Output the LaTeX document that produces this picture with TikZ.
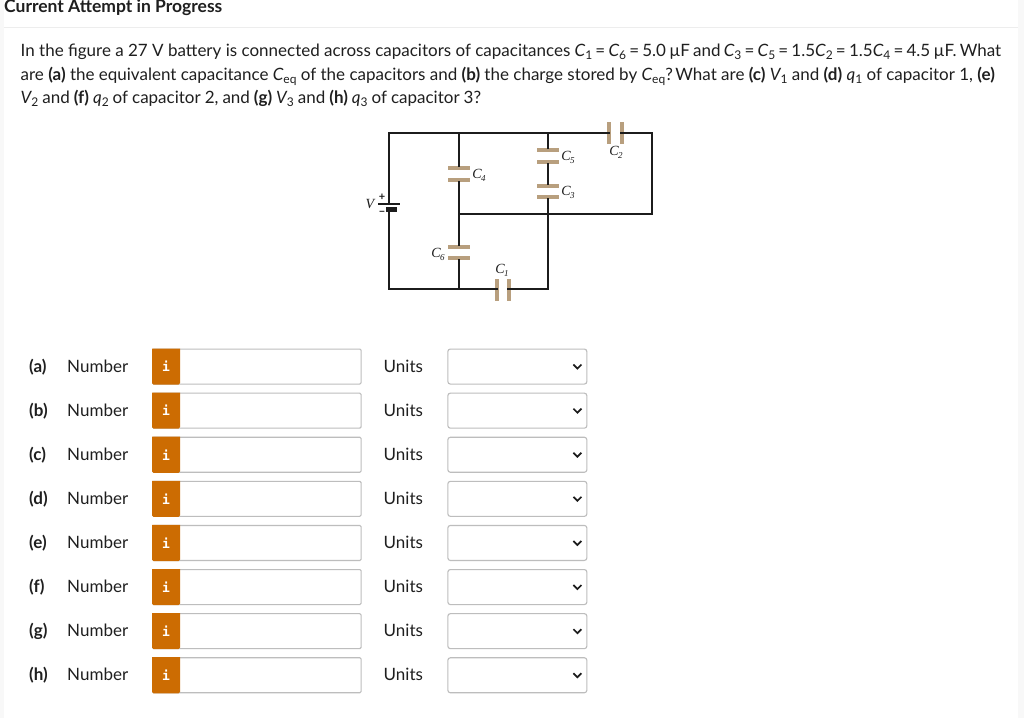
\documentclass[tikz,border=0pt]{standalone}
\usepackage{fontspec}
\setmainfont{Lato}
\newfontfamily\figfont{Liberation Serif}
\newfontfamily\iconfont{DejaVu Sans Mono}
\usetikzlibrary{calc}
\definecolor{wire}{HTML}{1C1C1C}
\definecolor{plate}{HTML}{B89F7E}
\definecolor{ink}{HTML}{1F1F1F}
\definecolor{boxline}{HTML}{BDBDBD}
\definecolor{infobg}{HTML}{CC6C02}
\definecolor{edgetint}{HTML}{F8F8F8}
\newcommand{\lsub}[1]{\raisebox{-0.22em}{\fontsize{12}{12}\selectfont\upshape #1}}
\newcommand{\vv}[2]{{\itshape #1}\lsub{#2}}
\newcommand{\figc}[1]{{\figfont\itshape C\kern-0.5pt\raisebox{-0.22em}{\fontsize{9}{9}\selectfont #1}}}
\tikzset{
  x=1pt,y=-1pt,
  wireline/.style={draw=wire,line width=2.6pt,line cap=rect},
  hplate/.style={fill=plate,inner sep=0pt,minimum width=22pt,minimum height=4pt},
  vplate/.style={fill=plate,inner sep=0pt,minimum width=4pt,minimum height=22pt},
  para/.style={anchor=base west,inner sep=0pt,text=ink,font=\fontsize{17}{20}\selectfont},
  head/.style={anchor=base west,inner sep=0pt,text=ink,font=\fontsize{17.5}{20}\selectfont\bfseries},
  rowlabel/.style={anchor=base west,inner sep=0pt,text=ink,font=\fontsize{17}{20}\selectfont},
  figlabel/.style={inner sep=0pt,text=wire,font=\fontsize{14}{14}\selectfont},
  fieldbox/.style={draw=boxline,line width=1.1pt,fill=white,anchor=north west,inner sep=0pt,rounded corners=1.2pt},
}
\begin{document}
\begin{tikzpicture}
\useasboundingbox (0,0) rectangle (1024,718);
\fill[white] (0,0) rectangle (1024,718);
\fill[edgetint] (0,0) rectangle (3.5,718);
\fill[edgetint] (1018,0) rectangle (1024,718);
% heading
\node[head] (title) at (4,12.5) {Current Attempt in Progress};
\coordinate (ruleL) at (4,27);
\coordinate (ruleR) at (1018,27);
\draw[draw=black!7,line width=1pt] (ruleL) -- (ruleR);
% question
\node[para] (l1) at (20.5,56) {In the figure a 27 V battery is connected across capacitors of capacitances {\spaceskip=3.2pt \vv{C}{1} = \vv{C}{6} = 5.0 µF and \vv{C}{3} = \vv{C}{5} = 1.5\vv{C}{2} = 1.5\vv{C}{4} = 4.5 µF. What}};
\node[para] (l2) at (20.5,80) {\spaceskip=4.35pt are \textbf{(a)} the equivalent capacitance \vv{C}{eq} of the capacitors and \textbf{(b)} the charge stored by \vv{C}{eq}?\kern2.5pt What are \textbf{(c)} \vv{V}{1} and \textbf{(d)} \vv{q}{1} of capacitor 1, \textbf{(e)}};
\node[para] (l3) at (20.5,103) {\spaceskip=4pt \vv{V}{2} and \textbf{(f)} \vv{q}{2} of capacitor 2, and \textbf{(g)} \vv{V}{3} and \textbf{(h)} \vv{q}{3} of capacitor 3?};
% circuit junctions
\coordinate (tl) at (389,133);
\coordinate (t4) at (459,133);
\coordinate (t5) at (548,133);
\coordinate (tr) at (652,133);
\coordinate (mr) at (652,214);
\coordinate (m5) at (548,214);
\coordinate (m4) at (459,214);
\coordinate (bl) at (389,289);
\coordinate (b4) at (459,289);
\coordinate (br) at (548,289);
% plates
\node[vplate] (c2a) at (609,132.5) {};
\node[vplate] (c2b) at (621.5,132.5) {};
\node[vplate] (c1a) at (497,290) {};
\node[vplate] (c1b) at (508.5,290) {};
\node[hplate] (c5a) at (548,150) {};
\node[hplate] (c5b) at (548,161.7) {};
\node[hplate] (c3a) at (548,185.7) {};
\node[hplate] (c3b) at (548,197.3) {};
\node[hplate] (c4a) at (459,167.7) {};
\node[hplate] (c4b) at (459,179.7) {};
\node[hplate] (c6a) at (459,247) {};
\node[hplate] (c6b) at (459,258.3) {};
% battery
\node[fill=wire,inner sep=0pt,minimum width=22pt,minimum height=2.6pt] (batp) at (389,204) {};
\node[fill=wire,inner sep=0pt,minimum width=11pt,minimum height=5pt] (batn) at (391.5,209) {};
% wires
\draw[wireline] (batp.center -| tl) -- (tl) -- (c2a.center |- tl);
\draw[wireline] (c2b.center |- tr) -- (tr) -- (mr) -- (m4);
\draw[wireline] (batn.center -| bl) -- (bl) -- (c1a.center |- bl);
\draw[wireline] (c1b.center |- br) -- (br) -- (m5);
\draw[wireline] (t4) -- (c4a);
\draw[wireline] (c4b) -- (c6a);
\draw[wireline] (c6b) -- (b4);
\draw[wireline] (t5) -- (c5a);
\draw[wireline] (c5b) -- (c3a);
\draw[wireline] (c3b) -- (m5);
% figure labels
\node[figlabel] (lv) at (370,204.5) {\figfont\itshape V};
\node[font=\fontsize{11}{11}\selectfont\bfseries,inner sep=0pt,text=wire] (lp) at (382,197) {+};
\node[font=\fontsize{11}{11}\selectfont\bfseries,inner sep=0pt,text=wire] (lm) at (382,213) {\textminus};
\node[figlabel] (l5) at (568,157) {\figc{5}};
\node[figlabel] (l4) at (479,175) {\figc{4}};
\node[figlabel] (l3f) at (568,192.5) {\figc{3}};
\node[figlabel] (l2f) at (616,152) {\figc{2}};
\node[figlabel] (l6) at (438,254) {\figc{6}};
\node[figlabel] (l1f) at (502,270.5) {\figc{1}};
% answer rows
\foreach \lab [count=\i from 0] in {a,b,c,d,e,f,g,h}{
  \pgfmathsetmacro{\ry}{366+44.1*\i}
  \node[rowlabel] (lab\lab) at (29,\ry+6) {\textbf{(\lab)}};
  \node[rowlabel] (num\lab) at (67,\ry+6) {Number};
  \node[fieldbox,minimum width=208.5pt,minimum height=35pt] (inp\lab) at (152,\ry-17.5) {};
  \fill[infobg,rounded corners=1.5pt] (inp\lab.north west) -- (inp\lab.south west) -- ([xshift=28pt]inp\lab.south west) [sharp corners] -- ([xshift=28pt]inp\lab.north west) -- cycle;
  \node[inner sep=0pt,text=white,font=\iconfont\bfseries\fontsize{13}{13}\selectfont] (ico\lab) at ($(inp\lab.west)+(14,0)$) {i};
  \node[rowlabel] (uni\lab) at (383.5,\ry+6) {Units};
  \node[fieldbox,minimum width=139pt,minimum height=35pt,rounded corners=2.5pt] (sel\lab) at (447.3,\ry-17.5) {};
  \draw[draw=wire,line width=1.7pt] ($(sel\lab.east)+(-14,-2)$) -- ($(sel\lab.east)+(-10,2)$) -- ($(sel\lab.east)+(-6,-2)$);
}
\end{tikzpicture}
\end{document}
